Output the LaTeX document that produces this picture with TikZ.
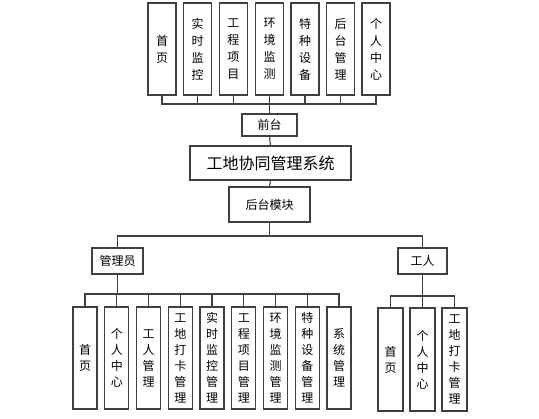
\documentclass[tikz,border=0pt]{standalone}
\usepackage{fontspec}
\setmainfont{Noto Sans CJK SC}
\begin{document}
\begin{tikzpicture}[x=1pt,y=-1pt,
  box/.style={draw=black!75,line width=1.1pt,fill=white,inner sep=0pt,align=center,font=\fontsize{12}{17}\selectfont},
  tall/.style={box,minimum width=28pt,minimum height=92pt},
  sub/.style={box,minimum width=24pt,minimum height=102pt,font=\fontsize{12}{16}\selectfont},
  wsub/.style={box,minimum width=25pt,minimum height=103pt,font=\fontsize{12}{16}\selectfont},
  link/.style={draw=black!75,line width=1.1pt}]
\useasboundingbox (0,0) rectangle (539,419);
% top row
\node[tall] (t1) at (162,49) {首\\页};
\node[tall] (t2) at (197.7,49) {实\\时\\监\\控};
\node[tall] (t3) at (233.4,49) {工\\程\\项\\目};
\node[tall] (t4) at (269.5,49) {环\\境\\监\\测};
\node[tall] (t5) at (305,49) {特\\种\\设\\备};
\node[tall] (t6) at (340.5,49) {后\\台\\管\\理};
\node[tall] (t7) at (376,49) {个\\人\\中\\心};
\node[box,minimum width=55pt,minimum height=22pt] (qt) at (269.5,125) {前台};
\node[box,minimum width=161pt,minimum height=34pt,font=\fontsize{16}{20}\selectfont] (main) at (270.5,163) {工地协同管理系统};
\node[box,minimum width=81pt,minimum height=35pt] (hm) at (269.5,204.5) {后台模块};
\node[box,minimum width=51pt,minimum height=26pt] (adm) at (117.5,261) {管理员};
\node[box,minimum width=49pt,minimum height=26pt] (wk) at (422.5,261) {工人};
% admin children
\node[sub] (a1) at (85,358) {首\\页};
\node[sub] (a2) at (116.75,358) {个\\人\\中\\心};
\node[sub] (a3) at (148.5,358) {工\\人\\管\\理};
\node[sub] (a4) at (180.25,358) {工\\地\\打\\卡\\管\\理};
\node[sub] (a5) at (212,358) {实\\时\\监\\控\\管\\理};
\node[sub] (a6) at (243.75,358) {工\\程\\项\\目\\管\\理};
\node[sub] (a7) at (275.5,358) {环\\境\\监\\测\\管\\理};
\node[sub] (a8) at (307.25,358) {特\\种\\设\\备\\管\\理};
\node[sub] (a9) at (339,358) {系\\统\\管\\理};
% worker children
\node[wsub] (w1) at (390.5,359.5) {首\\页};
\node[wsub] (w2) at (422.5,359.5) {个\\人\\中\\心};
\node[wsub] (w3) at (454.5,359.5) {工\\地\\打\\卡\\管\\理};
% bars
\coordinate (tb) at (269.5,104);
\coordinate (mb) at (269.5,236);
\coordinate (ab) at (117.5,294);
\coordinate (wb) at (422.5,296);
\foreach \i in {1,...,7} \draw[link] (t\i.south) |- (tb);
\draw[link] (tb) -- (qt.north);
\draw[link] (qt.south) -- (main.north);
\draw[link] (main.south) -- (hm.north);
\draw[link] (hm.south) -- (mb);
\draw[link] (adm.north) |- (mb);
\draw[link] (wk.north) |- (mb);
\draw[link] (adm.south) -- (ab);
\foreach \i in {1,...,9} \draw[link] (a\i.north) |- (ab);
\draw[link] (wk.south) -- (wb);
\foreach \i in {1,...,3} \draw[link] (w\i.north) |- (wb);
\end{tikzpicture}
\end{document}
